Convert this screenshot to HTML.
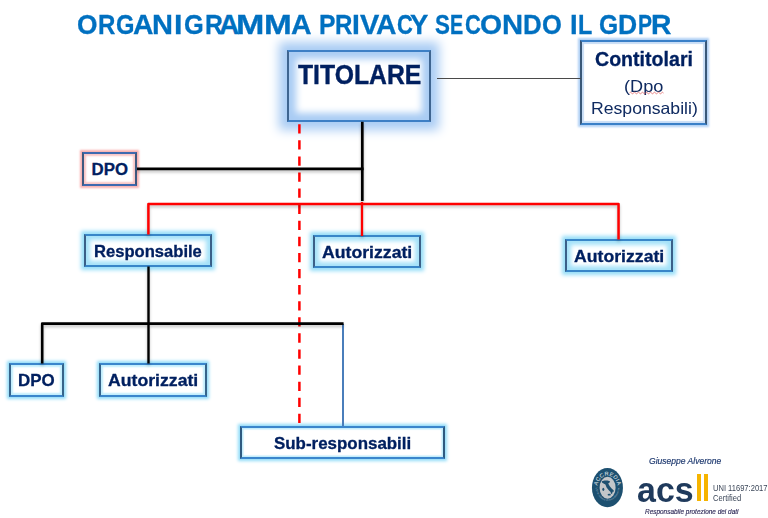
<!DOCTYPE html>
<html><head><meta charset="utf-8">
<style>
html,body{margin:0;padding:0;background:#fff;}
body{width:768px;height:518px;position:relative;overflow:hidden;font-family:"Liberation Sans",sans-serif;}
.t{position:absolute;white-space:nowrap;line-height:1;transform-origin:0 0;}
.box{position:absolute;box-sizing:border-box;background:#fff;}
.ln{position:absolute;}
</style></head><body>
<div class="t" style="left:76.66px;top:10.56px;font-size:28px;font-weight:bold;color:#0070c0;transform:scaleX(0.94);-webkit-text-stroke:0.3px #0070c0;">O</div>
<div class="t" style="left:97.78px;top:10.56px;font-size:28px;font-weight:bold;color:#0070c0;transform:scaleX(0.859);-webkit-text-stroke:0.3px #0070c0;">R</div>
<div class="t" style="left:115.85px;top:10.56px;font-size:28px;font-weight:bold;color:#0070c0;transform:scaleX(0.847);-webkit-text-stroke:0.3px #0070c0;">G</div>
<div class="t" style="left:133.39px;top:10.56px;font-size:28px;font-weight:bold;color:#0070c0;transform:scaleX(1.011);-webkit-text-stroke:0.3px #0070c0;">A</div>
<div class="t" style="left:152.12px;top:10.56px;font-size:28px;font-weight:bold;color:#0070c0;transform:scaleX(1.038);-webkit-text-stroke:0.3px #0070c0;">N</div>
<div class="t" style="left:174.23px;top:10.56px;font-size:28px;font-weight:bold;color:#0070c0;transform:scaleX(1.087);-webkit-text-stroke:0.3px #0070c0;">I</div>
<div class="t" style="left:183.59px;top:10.56px;font-size:28px;font-weight:bold;color:#0070c0;transform:scaleX(0.905);-webkit-text-stroke:0.3px #0070c0;">G</div>
<div class="t" style="left:204.62px;top:10.56px;font-size:28px;font-weight:bold;color:#0070c0;transform:scaleX(0.888);-webkit-text-stroke:0.3px #0070c0;">R</div>
<div class="t" style="left:219.0px;top:10.56px;font-size:28px;font-weight:bold;color:#0070c0;-webkit-text-stroke:0.3px #0070c0;">A</div>
<div class="t" style="left:236.47px;top:10.56px;font-size:28px;font-weight:bold;color:#0070c0;transform:scaleX(1.215);-webkit-text-stroke:0.3px #0070c0;">M</div>
<div class="t" style="left:264.12px;top:10.56px;font-size:28px;font-weight:bold;color:#0070c0;transform:scaleX(1.19);-webkit-text-stroke:0.3px #0070c0;">M</div>
<div class="t" style="left:291.48px;top:10.56px;font-size:28px;font-weight:bold;color:#0070c0;transform:scaleX(1.017);-webkit-text-stroke:0.3px #0070c0;">A</div>
<div class="t" style="left:318.94px;top:10.56px;font-size:28px;font-weight:bold;color:#0070c0;transform:scaleX(0.881);-webkit-text-stroke:0.3px #0070c0;">P</div>
<div class="t" style="left:335.18px;top:10.56px;font-size:28px;font-weight:bold;color:#0070c0;transform:scaleX(0.859);-webkit-text-stroke:0.3px #0070c0;">R</div>
<div class="t" style="left:352.08px;top:10.56px;font-size:28px;font-weight:bold;color:#0070c0;transform:scaleX(1.011);-webkit-text-stroke:0.3px #0070c0;">I</div>
<div class="t" style="left:360.0px;top:10.56px;font-size:28px;font-weight:bold;color:#0070c0;transform:scaleX(1.033);-webkit-text-stroke:0.3px #0070c0;">V</div>
<div class="t" style="left:376.19px;top:10.56px;font-size:28px;font-weight:bold;color:#0070c0;transform:scaleX(1.011);-webkit-text-stroke:0.3px #0070c0;">A</div>
<div class="t" style="left:397.22px;top:10.56px;font-size:28px;font-weight:bold;color:#0070c0;transform:scaleX(0.783);-webkit-text-stroke:0.3px #0070c0;">C</div>
<div class="t" style="left:410.02px;top:10.56px;font-size:28px;font-weight:bold;color:#0070c0;transform:scaleX(0.982);-webkit-text-stroke:0.3px #0070c0;">Y</div>
<div class="t" style="left:434.9px;top:10.56px;font-size:28px;font-weight:bold;color:#0070c0;transform:scaleX(0.8);-webkit-text-stroke:0.3px #0070c0;">S</div>
<div class="t" style="left:450.49px;top:10.56px;font-size:28px;font-weight:bold;color:#0070c0;transform:scaleX(0.706);-webkit-text-stroke:0.3px #0070c0;">E</div>
<div class="t" style="left:464.52px;top:10.56px;font-size:28px;font-weight:bold;color:#0070c0;transform:scaleX(0.783);-webkit-text-stroke:0.3px #0070c0;">C</div>
<div class="t" style="left:480.19px;top:10.56px;font-size:28px;font-weight:bold;color:#0070c0;transform:scaleX(1.015);-webkit-text-stroke:0.3px #0070c0;">O</div>
<div class="t" style="left:501.71px;top:10.56px;font-size:28px;font-weight:bold;color:#0070c0;transform:scaleX(1.044);-webkit-text-stroke:0.3px #0070c0;">N</div>
<div class="t" style="left:522.85px;top:10.56px;font-size:28px;font-weight:bold;color:#0070c0;transform:scaleX(0.924);-webkit-text-stroke:0.3px #0070c0;">D</div>
<div class="t" style="left:542.09px;top:10.56px;font-size:28px;font-weight:bold;color:#0070c0;transform:scaleX(0.91);-webkit-text-stroke:0.3px #0070c0;">O</div>
<div class="t" style="left:570.34px;top:10.56px;font-size:28px;font-weight:bold;color:#0070c0;transform:scaleX(0.978);-webkit-text-stroke:0.3px #0070c0;">I</div>
<div class="t" style="left:577.73px;top:10.56px;font-size:28px;font-weight:bold;color:#0070c0;transform:scaleX(0.836);-webkit-text-stroke:0.3px #0070c0;">L</div>
<div class="t" style="left:598.82px;top:10.56px;font-size:28px;font-weight:bold;color:#0070c0;transform:scaleX(0.879);-webkit-text-stroke:0.3px #0070c0;">G</div>
<div class="t" style="left:618.11px;top:10.56px;font-size:28px;font-weight:bold;color:#0070c0;transform:scaleX(0.947);-webkit-text-stroke:0.3px #0070c0;">D</div>
<div class="t" style="left:638.3px;top:10.56px;font-size:28px;font-weight:bold;color:#0070c0;transform:scaleX(0.75);-webkit-text-stroke:0.3px #0070c0;">P</div>
<div class="t" style="left:651.28px;top:10.56px;font-size:28px;font-weight:bold;color:#0070c0;transform:scaleX(1.012);-webkit-text-stroke:0.3px #0070c0;">R</div>
<div class="box" style="left:287px;top:50px;width:144px;height:72px;border:2px solid;border-color:#3d7fc5 #3f6590;box-shadow:0 0 10px 8px #a9ccf4, inset 0 0 7px 7px #a9ccf4;"></div>
<div class="box" style="left:580px;top:40px;width:127px;height:85px;border:2px solid;border-color:#3a80c8 #3a5878;box-shadow:0 0 2px 2px #b0d0f5, inset 0 0 1px 2px #c8ddf6;"></div>
<div class="box" style="left:82px;top:152px;width:55px;height:34px;border:2px solid;border-color:#3d6ab0 #3d5a80;box-shadow:0 0 2px 2px #f8b0b0, inset 0 0 2px 2px #f8c4c4;"></div>
<div class="box" style="left:84px;top:234px;width:128px;height:33px;border:2px solid;border-color:#3886c8 #3a6088;box-shadow:0 0 4px 3px #96def8, inset 0 0 4px 4px #a4e2f9;"></div>
<div class="box" style="left:313px;top:235px;width:108px;height:33px;border:2px solid;border-color:#3886c8 #3a6088;box-shadow:0 0 4px 3px #96def8, inset 0 0 4px 4px #a4e2f9;"></div>
<div class="box" style="left:565px;top:239px;width:108px;height:33px;border:2px solid;border-color:#3886c8 #3a6088;box-shadow:0 0 4px 3px #96def8, inset 0 0 4px 4px #a4e2f9;"></div>
<div class="box" style="left:9px;top:363px;width:55px;height:34px;border:2px solid;border-color:#3a86cc #36648a;box-shadow:0 0 3px 2px #90dcf8, inset 0 0 2px 2px #bfeefd;"></div>
<div class="box" style="left:99px;top:363px;width:108px;height:34px;border:2px solid;border-color:#3a86cc #36648a;box-shadow:0 0 3px 2px #90dcf8, inset 0 0 2px 2px #bfeefd;"></div>
<div class="box" style="left:240px;top:426px;width:205px;height:33px;border:2px solid;border-color:#3a86cc #2f5a80;box-shadow:0 0 3px 2px #90dcf8, inset 0 0 1px 1.5px #c0ecfc;"></div>
<div class="ln" style="left:437px;top:78.40px;width:143.5px;height:1.0px;background:#4a4a4a;"></div>
<div class="ln" style="left:342.10px;top:324px;width:1.6px;height:102px;background:#4a7ebb;"></div>
<svg class="ln" style="left:296px;top:120px;" width="6" height="310"><line x1="3.4" y1="4.2" x2="3.4" y2="303.6" stroke="#f00" stroke-width="2.5" stroke-dasharray="9.3,6.79"/></svg>
<svg class="ln" style="left:0;top:0;filter:drop-shadow(0 2px 1.5px rgba(0,0,0,0.25));" width="768" height="518" viewBox="0 0 768 518">
<g fill="none" stroke-linejoin="round">
<path d="M362.3,121.8 V201" stroke="#000" stroke-width="2.7"/>
<path d="M137,168.85 H363.6" stroke="#000" stroke-width="2.6"/>
<path d="M148.4,234.5 V204.1 H618.55 V239.5" stroke="#f00" stroke-width="2.5"/>
<path d="M362.0,202 V236" stroke="#f00" stroke-width="2.3"/>
<path d="M148.5,266.5 V323.6" stroke="#000" stroke-width="2.4"/>
<path d="M42.2,363.5 V323.6 H343.6" stroke="#000" stroke-width="2.6"/>
<path d="M148.5,323.6 V363.5" stroke="#000" stroke-width="2.4"/>
</g></svg>
<div class="t" style="left:297.5px;top:60.56px;font-size:28px;font-weight:bold;color:#002060;transform:scaleX(0.884);-webkit-text-stroke:0.4px #002060;">TITOLARE</div>
<div class="t" style="left:594.5px;top:48.07px;font-size:21px;font-weight:bold;color:#002060;transform:scaleX(0.933);-webkit-text-stroke:0.3px #002060;text-shadow:0 0 1.5px #fff,0 0 2.5px #fff;">Contitolari</div>
<div class="t" style="left:623.7px;top:77.88px;font-size:16.5px;font-weight:normal;color:#0f2a60;transform:scaleX(1.1);">(Dpo</div>
<svg class="ln" style="left:629px;top:91px;" width="36" height="4"><path d="M0.5,2 q1,-1.5 2,0 t2,0 t2,0 t2,0 t2,0 t2,0 t2,0 t2,0 t2,0 t2,0 t2,0 t2,0 t2,0 t2,0 t2,0 t2,0 t2,0" fill="none" stroke="#e06060" stroke-width="0.8"/></svg>
<div class="t" style="left:590.5px;top:100.18px;font-size:16.5px;font-weight:normal;color:#0f2a60;transform:scaleX(1.068);">Responsabili)</div>
<div class="t" style="left:91.6px;top:161.73px;font-size:16.8px;font-weight:bold;color:#002060;-webkit-text-stroke:0.3px #002060;text-shadow:0 0 1.5px #fff,0 0 2.5px #fff;">DPO</div>
<div class="t" style="left:94.3px;top:243.38px;font-size:16.5px;font-weight:bold;color:#002060;transform:scaleX(1.005);-webkit-text-stroke:0.3px #002060;text-shadow:0 0 1.5px #fff,0 0 2.5px #fff;">Responsabile</div>
<div class="t" style="left:321.9px;top:243.90px;font-size:17px;font-weight:bold;color:#002060;transform:scaleX(1.039);-webkit-text-stroke:0.3px #002060;text-shadow:0 0 1.5px #fff,0 0 2.5px #fff;">Autorizzati</div>
<div class="t" style="left:573.9px;top:247.90px;font-size:17px;font-weight:bold;color:#002060;transform:scaleX(1.039);-webkit-text-stroke:0.3px #002060;text-shadow:0 0 1.5px #fff,0 0 2.5px #fff;">Autorizzati</div>
<div class="t" style="left:17.9px;top:372.00px;font-size:17px;font-weight:bold;color:#002060;transform:scaleX(0.995);-webkit-text-stroke:0.3px #002060;text-shadow:0 0 1.5px #fff,0 0 2.5px #fff;">DPO</div>
<div class="t" style="left:107.9px;top:372.00px;font-size:17px;font-weight:bold;color:#002060;transform:scaleX(1.039);-webkit-text-stroke:0.3px #002060;text-shadow:0 0 1.5px #fff,0 0 2.5px #fff;">Autorizzati</div>
<div class="t" style="left:273.8px;top:434.80px;font-size:17px;font-weight:bold;color:#002060;transform:scaleX(0.995);-webkit-text-stroke:0.3px #002060;text-shadow:0 0 1.5px #fff,0 0 2.5px #fff;">Sub-responsabili</div>
<svg class="ln" style="left:588px;top:464px;" width="40" height="48" viewBox="588 464 40 48">
<defs><path id="arcTop" d="M597,489 A10.5,13.4 0 0 1 618,489"/><path id="arcBot" d="M595.8,487 A11.8,13.8 0 0 0 619.4,487"/></defs>
<ellipse cx="607.45" cy="487.7" rx="15.5" ry="19.6" fill="#1d5070"/>
<ellipse cx="607.6" cy="487.75" rx="8" ry="10.9" fill="#c3c6c9"/>
<text font-family="Liberation Sans" font-size="5.6" fill="#e6edf2" letter-spacing="0.25"><textPath href="#arcTop" startOffset="50%" text-anchor="middle">ACCREDIA</textPath></text>
<text font-family="Liberation Sans" font-size="2.4" fill="#a9bccb" letter-spacing="0.1"><textPath href="#arcBot" startOffset="50%" text-anchor="middle">L'Ente Italiano di Accreditamento</textPath></text>
<path d="M601.8,481.3 L604.5,480.4 L607.5,480.6 L610,481.2 L609.6,482.6 L608.2,483.4 L609.6,486 L611.6,488.6 L613.6,490.2 L614,491.4 L612.6,491.8 L612.2,493.6 L611,494 L610.6,492 L609,490.4 L606.6,487.4 L605.4,484.6 L603.6,483.6 L602.2,482.8 Z" fill="#1d5070"/>
<ellipse cx="603.3" cy="489.3" rx="1" ry="1.6" fill="#1d5070"/>
<ellipse cx="609.2" cy="494.7" rx="1.6" ry="0.9" fill="#1d5070"/>
</svg>
<div class="t" style="left:636.5px;top:472px;font-size:35.2px;font-weight:bold;color:#1f3a5c;transform:scaleX(0.965);">acs</div>
<div class="ln" style="left:696.5px;top:474.3px;width:4.1px;height:26.4px;background:#f6b400;"></div>
<div class="ln" style="left:704.2px;top:474.3px;width:4.3px;height:26.4px;background:#f6b400;"></div>
<div class="t" style="left:713px;top:483.6px;font-size:8.7px;color:#3b4658;transform:scaleX(0.87);">UNI 11697:2017</div>
<div class="t" style="left:713px;top:493.6px;font-size:8.7px;color:#3b4658;transform:scaleX(0.87);">Certified</div>
<div class="t" style="left:649.4px;top:456px;font-size:9.4px;font-style:italic;color:#1f3a70;transform:scaleX(0.91);-webkit-text-stroke:0.2px #1f3a70;">Giuseppe Alverone</div>
<div class="t" style="left:644.7px;top:508px;font-size:7px;font-style:italic;color:#2e2a58;transform:scaleX(0.92);-webkit-text-stroke:0.15px #2e2a58;">Responsabile protezione dei dati</div>
</body></html>
